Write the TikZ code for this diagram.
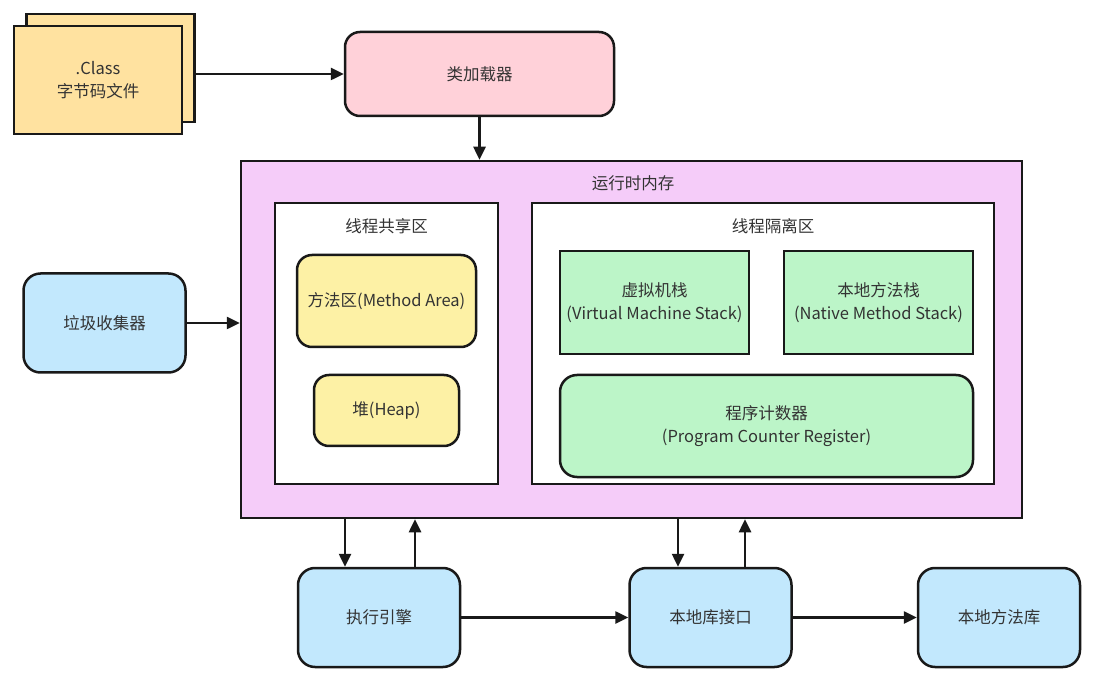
\documentclass[tikz,border=0pt]{standalone}
\usepackage{fontspec}
\setmainfont{Noto Sans CJK SC}
\usetikzlibrary{arrows.meta}
\definecolor{clsfill}{HTML}{FFE2A0}
\definecolor{loadfill}{HTML}{FFD1D9}
\definecolor{memfill}{HTML}{F5CCF9}
\definecolor{areafill}{HTML}{FDF1A5}
\definecolor{stackfill}{HTML}{BCF5C8}
\definecolor{partfill}{HTML}{C2E8FD}
\definecolor{txt}{HTML}{333333}
\begin{document}
\begin{tikzpicture}[x=1pt,y=-1pt,
    box/.style={draw=black!90,line width=2.5pt,text=txt,align=center,font=\fontsize{16.5}{23}\selectfont},
    file/.style={box,fill=clsfill,minimum width=168pt,minimum height=108pt},
    part/.style={box,fill=partfill,rounded corners=17pt,minimum width=162pt,minimum height=99pt},
    area/.style={box,fill=areafill,rounded corners=15pt},
    stack/.style={box,fill=stackfill},
    zone/.style={box,fill=white},
    title/.style={text=txt,font=\fontsize{16.5}{20}\selectfont},
    arr/.style={line width=2.5pt,draw=black!90,-{Triangle[length=13pt,width=12pt]}}]
  \useasboundingbox (0,0) rectangle (1114,684);
  \node[file] (clsback) at (110.5,68) {};
  \node[file] (cls) at (98,80) {.Class\\字节码文件};
  \node[box,fill=loadfill,rounded corners=15pt,minimum width=269pt,minimum height=84pt] (loader) at (479.5,74) {类加载器};
  \node[box,fill=memfill,minimum width=781pt,minimum height=357pt] (runtime) at (631.5,339.5) {};
  \node[title] (rtlabel) at (633,183) {运行时内存};
  \node[zone,minimum width=223pt,minimum height=281pt] (shared) at (386.5,343.5) {};
  \node[title] (sharedlabel) at (386.5,226) {线程共享区};
  \node[zone,minimum width=462pt,minimum height=281pt] (isolated) at (763,343.5) {};
  \node[title] (isolatedlabel) at (773,226) {线程隔离区};
  \node[area,minimum width=179pt,minimum height=92pt] (method) at (386.5,301) {方法区(Method Area)};
  \node[area,minimum width=145pt,minimum height=71pt] (heap) at (386.5,410.5) {堆(Heap)};
  \node[stack,minimum width=189pt,minimum height=103pt] (vmstack) at (654.5,302.5) {虚拟机栈\\(Virtual Machine Stack)};
  \node[stack,minimum width=189pt,minimum height=103pt] (nstack) at (878.5,302.5) {本地方法栈\\(Native Method Stack)};
  \node[stack,rounded corners=17pt,minimum width=413pt,minimum height=102pt] (pc) at (766.5,426) {程序计数器\\(Program Counter Register)};
  \node[part] (gc) at (104.5,323) {垃圾收集器};
  \node[part] (engine) at (379,617.5) {执行引擎};
  \node[part] (nif) at (710.5,617.5) {本地库接口};
  \node[part] (nlib) at (999,617.5) {本地方法库};

  \draw[arr] (clsback.east |- loader.west) -- (loader.west);
  \draw[arr] (loader.south) -- (loader.south |- runtime.north);
  \draw[arr] (gc.east) -- (gc.east -| runtime.west);
  \draw[arr] ([xshift=-34pt]engine.north |- runtime.south) -- ([xshift=-34pt]engine.north);
  \draw[arr] ([xshift=36pt]engine.north) -- ([xshift=36pt]engine.north |- runtime.south);
  \draw[arr] ([xshift=-32.5pt]nif.north |- runtime.south) -- ([xshift=-32.5pt]nif.north);
  \draw[arr] ([xshift=34.5pt]nif.north) -- ([xshift=34.5pt]nif.north |- runtime.south);
  \draw[arr] (engine.east) -- (nif.west);
  \draw[arr] (nif.east) -- (nlib.west);
\end{tikzpicture}
\end{document}
